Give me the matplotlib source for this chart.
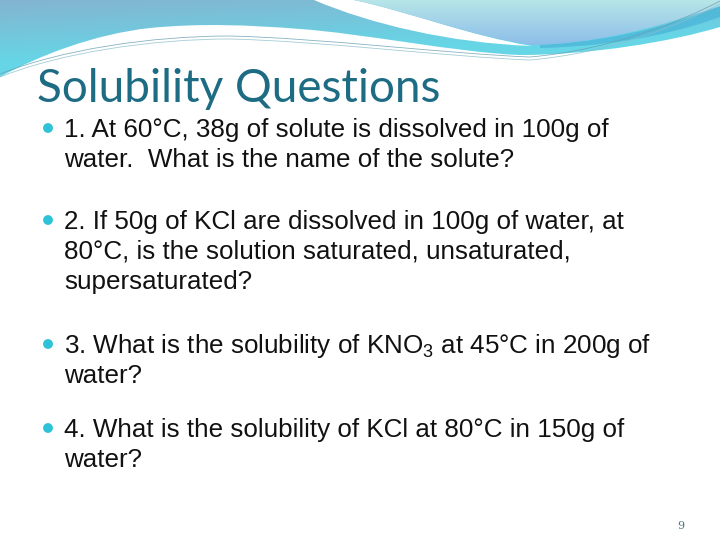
import numpy as np
import matplotlib
matplotlib.use("Agg")
import matplotlib.pyplot as plt
from matplotlib.path import Path
from matplotlib.patches import PathPatch, Circle

# ---- content ----
title = "Solubility Questions"
bullet_lines = [
    ["1. At 60°C, 38g of solute is dissolved in 100g of",
     "water.  What is the name of the solute?"],
    ["2. If 50g of KCl are dissolved in 100g of water, at",
     "80°C, is the solution saturated, unsaturated,",
     "supersaturated?"],
    ["3. What is the solubility of KNO$_{\\mathrm{3}}$ at 45°C in 200g of",
     "water?"],
    ["4. What is the solubility of KCl at 80°C in 150g of",
     "water?"],
]
bullet_baselines = [137, 229, 353, 437]
line_step = 30
page_number = "9"

plt.rcParams['mathtext.fontset'] = 'custom'
plt.rcParams['mathtext.rm'] = 'Liberation Sans'

fig = plt.figure(figsize=(7.2, 5.4), dpi=100)
ax = fig.add_axes([0, 0, 1, 1])
ax.set_xlim(0, 720)
ax.set_ylim(540, 0)
ax.axis('off')
fig.patch.set_facecolor('white')

def hex2rgb(h):
    h = h.lstrip('#')
    return np.array([int(h[i:i+2], 16) / 255 for i in (0, 2, 4)])

M, C4, L = Path.MOVETO, Path.CURVE4, Path.LINETO

# ---- wave decoration ----
H = 90
yy, xx = np.mgrid[0:H, 0:720]
top = hex2rgb('#84b4d0'); bot = hex2rgb('#66d6e6')
t = np.clip(yy / 62 + xx / 720 * 0.45, 0, 1)[..., None]
imgA = top * (1 - t) + bot * t
vertsA = [(0, 0), (720, 0), (720, 27),
          (670, 42), (590, 55), (520, 55),
          (460, 53), (360, 33), (300, 29),
          (250, 25), (200, 23), (150, 28),
          (95, 34), (40, 55), (0, 77), (0, 0)]
codesA = [M, L, L, C4, C4, C4, C4, C4, C4, C4, C4, C4, C4, C4, C4, L]
pA = PathPatch(Path(vertsA, codesA), facecolor='none', edgecolor='none')
ax.add_patch(pA)
im = ax.imshow(imgA, extent=(0, 720, H, 0), zorder=1, interpolation='bilinear')
im.set_clip_path(pA)

# darker stripe on right side
vertsS = [(540, 45), (630, 40), (690, 18), (720, 6),
          (720, 17), (690, 28), (630, 46), (540, 48), (540, 45)]
codesS = [M, C4, C4, C4, L, C4, C4, C4, L]
ax.add_patch(PathPatch(Path(vertsS, codesS), facecolor='#4ab4d8', edgecolor='none',
                       alpha=0.75, zorder=2))

# white swoosh
vertsW = [(314, 0), (370, 24), (450, 43), (532, 46),
          (470, 36), (410, 12), (354, 0), (314, 0)]
codesW = [M, C4, C4, C4, C4, C4, C4, L]
ax.add_patch(PathPatch(Path(vertsW, codesW), facecolor='white', edgecolor='none', zorder=3))

# right light region
topC = hex2rgb('#b6e5e8'); botC = hex2rgb('#8cbde8')
tc = np.clip(yy / 45, 0, 1)[..., None]
imgC = topC * (1 - tc) + botC * tc
vertsC = [(354, 0), (720, 0), (720, 6),
          (650, 30), (590, 44), (532, 45),
          (470, 36), (410, 12), (354, 0)]
codesC = [M, L, L, C4, C4, C4, C4, C4, C4]
pC = PathPatch(Path(vertsC, codesC), facecolor='none', edgecolor='none')
ax.add_patch(pC)
imc = ax.imshow(imgC, extent=(0, 720, H, 0), zorder=4, interpolation='bilinear')
imc.set_clip_path(pC)

# thin lines
for off, col in [(0, '#6a9fb3'), (3, '#8cbfcc')]:
    v = [(0, 74 + off), (60, 50 + off), (150, 36 + off), (230, 36 + off),
         (320, 38 + off), (450, 54 + off), (530, 57 + off),
         (610, 50 + off), (680, 22 + off), (720, 1 + off)]
    c = [M, C4, C4, C4, C4, C4, C4, C4, C4, C4]
    ax.add_patch(PathPatch(Path(v, c), facecolor='none', edgecolor=col, lw=0.6,
                           alpha=0.8, zorder=5))
ax.set_xlim(0, 720)
ax.set_ylim(540, 0)

# ---- title ----
ax.text(37, 102, title, fontsize=33, color='#1d6c84', family='Lato',
        va='baseline', ha='left', zorder=6)

# ---- bullets ----
for lines, b in zip(bullet_lines, bullet_baselines):
    ax.add_patch(Circle((48, b - 9), 4.2, color='#2cc3d6', zorder=6))
    for i, s in enumerate(lines):
        ax.text(64, b + i * line_step, s, fontsize=18.7, color='#111111',
                family='Liberation Sans', va='baseline', ha='left', zorder=6)

ax.text(681, 529, page_number, fontsize=8, color='#4f7585', family='DejaVu Serif',
        va='baseline', ha='center', zorder=6)

fig.savefig('out.png', dpi=100)
